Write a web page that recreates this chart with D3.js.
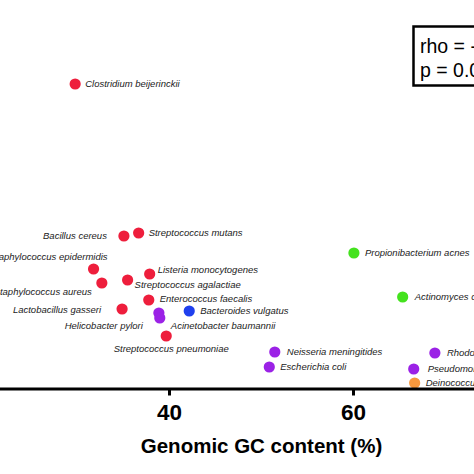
<!DOCTYPE html>
<html>
<head>
<meta charset="utf-8">
<script src="https://cdn.jsdelivr.net/npm/d3@7"></script>
<style>
  html, body { margin: 0; padding: 0; background: #fff; }
  svg { display: block; }
</style>
</head>
<body>
<svg id="chart" width="474" height="474"></svg>
<script>
// ---- data ----
const species = [
  "Clostridium beijerinckii", "Bacillus cereus", "Streptococcus mutans",
  "Staphylococcus epidermidis", "Staphylococcus aureus", "Streptococcus agalactiae",
  "Listeria monocytogenes", "Enterococcus faecalis", "Lactobacillus gasseri",
  "Helicobacter pylori", "Acinetobacter baumannii", "Bacteroides vulgatus",
  "Streptococcus pneumoniae", "Propionibacterium acnes", "Actinomyces odontolyticus",
  "Neisseria meningitides", "Escherichia coli", "Rhodobacter sphaeroides",
  "Pseudomonas aeruginosa", "Deinococcus radiodurans"
];
const gcContent = [29.8, 35.1, 36.7, 31.8, 32.7, 35.5, 37.9, 37.8, 34.9,
                   38.9, 39.0, 42.2, 39.7, 60.1, 65.4, 51.5, 50.9, 68.9, 66.6, 66.7];
const yValues   = [30.5, 15.3, 15.6, 12.0, 10.6, 10.9, 11.5, 8.9, 8.0,
                   7.6, 7.1, 7.8, 5.3, 13.6, 9.2, 3.7, 2.2, 3.6, 2.0, 0.6];
const phylum    = ["Firmicutes", "Firmicutes", "Firmicutes", "Firmicutes", "Firmicutes",
                   "Firmicutes", "Firmicutes", "Firmicutes", "Firmicutes",
                   "Proteobacteria", "Proteobacteria", "Bacteroidetes", "Firmicutes",
                   "Actinobacteria", "Actinobacteria", "Proteobacteria", "Proteobacteria",
                   "Proteobacteria", "Proteobacteria", "Deinococcus-Thermus"];
const xTicks = [20, 40, 60, 80];
const xTitle = "Genomic GC content (%)";
const statLines = ["rho = -0.52", "p = 0.019"];

// ---- styling / layout (not data) ----
const phylumColor = {
  "Firmicutes": "#ee1e3c",
  "Proteobacteria": "#9b22e6",
  "Bacteroidetes": "#1f40ee",
  "Actinobacteria": "#44e21e",
  "Deinococcus-Thermus": "#f7983e"
};
// label placement: [dx, dy, anchor]
const labelLayout = {
  "Clostridium beijerinckii": [10, 0, "start"],
  "Bacillus cereus": [-17, 0, "end"],
  "Streptococcus mutans": [10, 0, "start"],
  "Staphylococcus epidermidis": [14, -12, "end"],
  "Staphylococcus aureus": [-10, 9, "end"],
  "Streptococcus agalactiae": [7, 5, "start"],
  "Listeria monocytogenes": [8, -4, "start"],
  "Enterococcus faecalis": [11, -1, "start"],
  "Lactobacillus gasseri": [-21, 1, "end"],
  "Helicobacter pylori": [-16, 13, "end"],
  "Acinetobacter baumannii": [11, 8, "start"],
  "Bacteroides vulgatus": [11, 0, "start"],
  "Streptococcus pneumoniae": [5, 13, "middle"],
  "Propionibacterium acnes": [11, 0, "start"],
  "Actinomyces odontolyticus": [12, 0, "start"],
  "Neisseria meningitides": [12, 0, "start"],
  "Escherichia coli": [11, 0, "start"],
  "Rhodobacter sphaeroides": [12, 0, "start"],
  "Pseudomonas aeruginosa": [14, 0, "start"],
  "Deinococcus radiodurans": [11, 0, "start"]
};

const points = species.map((s, i) => ({ name: s, gc: gcContent[i], y: yValues[i], group: phylum[i] }));

const svg = d3.select("#chart");
const x = d3.scaleLinear().domain([20, 80]).range([-15, 537]);
const y = d3.scaleLinear().domain([0, 35]).range([389, 39]);

// points
const g = svg.append("g");
g.selectAll("circle").data(points).join("circle")
  .attr("cx", d => x(d.gc))
  .attr("cy", d => y(d.y))
  .attr("r", 5.6)
  .attr("fill", d => phylumColor[d.group]);

g.selectAll("text.lbl").data(points).join("text")
  .attr("class", "lbl")
  .attr("x", d => x(d.gc) + labelLayout[d.name][0])
  .attr("y", d => y(d.y) + labelLayout[d.name][1])
  .attr("dy", "0.35em")
  .attr("text-anchor", d => labelLayout[d.name][2])
  .attr("font-family", "Arial, 'Liberation Sans', sans-serif")
  .attr("font-style", "italic")
  .attr("font-size", 9.5)
  .attr("fill", "#222")
  .text(d => d.name);

// x axis
const axis = svg.append("g")
  .attr("transform", `translate(0,${y(0) - 0.5})`)
  .call(d3.axisBottom(x).tickValues(xTicks).tickSize(7).tickPadding(9).tickSizeOuter(0));
axis.select(".domain").attr("stroke", "#000").attr("stroke-width", 3);
axis.selectAll(".tick line").attr("stroke", "#000").attr("stroke-width", 3);
axis.selectAll(".tick text")
  .attr("font-family", "Arial, 'Liberation Sans', sans-serif")
  .attr("font-weight", "bold")
  .attr("font-size", 22.5)
  .attr("fill", "#000");

svg.append("text")
  .attr("x", 261.5)
  .attr("y", 453)
  .attr("text-anchor", "middle")
  .attr("font-family", "Arial, 'Liberation Sans', sans-serif")
  .attr("font-weight", "bold")
  .attr("font-size", 20.5)
  .attr("fill", "#000")
  .text(xTitle);

// stats box
svg.append("rect")
  .attr("x", 413.5).attr("y", 26.5)
  .attr("width", 120).attr("height", 59)
  .attr("fill", "#fff").attr("stroke", "#000").attr("stroke-width", 2.5);
svg.selectAll("text.stat").data(statLines).join("text")
  .attr("class", "stat")
  .attr("x", 420)
  .attr("y", (d, i) => 53 + i * 23.5)
  .attr("font-family", "Arial, 'Liberation Sans', sans-serif")
  .attr("font-size", 19.5)
  .attr("fill", "#000")
  .text(d => d);
</script>
</body>
</html>
